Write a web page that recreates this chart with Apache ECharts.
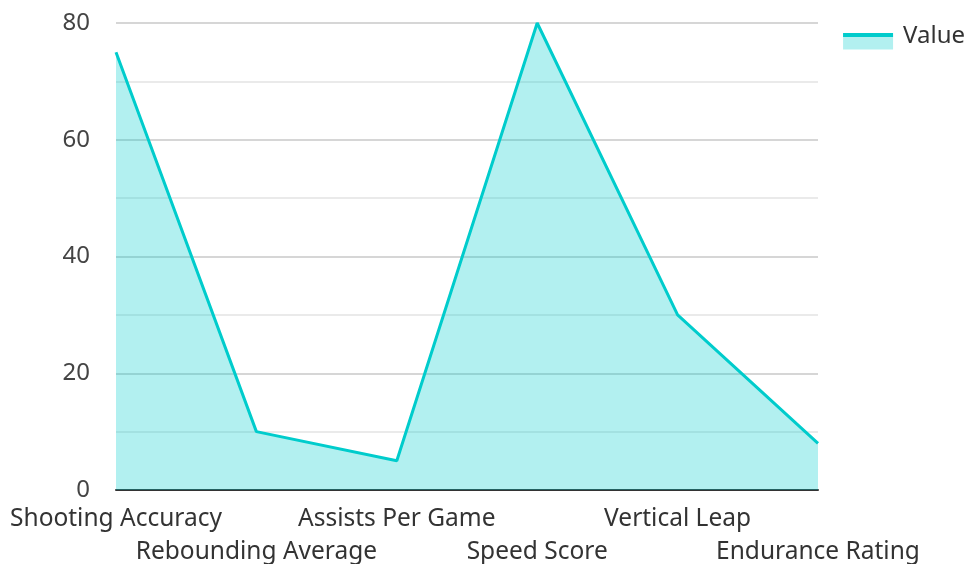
<!DOCTYPE html>
<html>
<head>
<meta charset="utf-8">
<script src="https://cdn.jsdelivr.net/npm/echarts@6/dist/echarts.min.js"></script>
<style>
  html, body { margin: 0; padding: 0; background: #fff; }
  #chart { width: 968px; height: 564px; }
</style>
</head>
<body>
<div id="chart"></div>
<script>
var categories = ['Shooting Accuracy', 'Rebounding Average', 'Assists Per Game', 'Speed Score', 'Vertical Leap', 'Endurance Rating'];
var values = [75, 10, 5, 80, 30, 8];
var seriesName = 'Value';

var lineColor = '#00cccc';
var areaColor = 'rgba(0,204,204,0.3)';
var hidden = 'rgba(0,0,0,0)';

// legend pieces share one layout so icons line up; only the top differs
function legendPart(top, iconH, iconColor, textColor) {
  return {
    data: [seriesName],
    right: 3,
    top: top,
    padding: 0,
    itemWidth: 50,
    itemHeight: iconH,
    icon: 'rect',
    itemStyle: { color: iconColor, borderWidth: 0 },
    textStyle: { fontSize: 24, color: textColor, padding: [0, 0, 0, 5] }
  };
}

var chart = echarts.init(document.getElementById('chart'));
chart.setOption({
  textStyle: { fontFamily: 'Noto Sans' },
  animation: false,
  legend: [
    legendPart(30, 15, areaColor, hidden),
    legendPart(23, 4, lineColor, hidden),
    legendPart(24, 15, hidden, '#333')
  ],
  grid: { left: 116, right: 150, top: 23, bottom: 74, outerBoundsMode: 'none', containLabel: false },
  xAxis: {
    type: 'category',
    data: categories,
    boundaryGap: false,
    axisLine: { lineStyle: { color: '#333', width: 2 } },
    axisTick: { show: false },
    axisLabel: {
      interval: 0,
      fontSize: 24.5,
      color: '#333',
      margin: 13,
      lineHeight: 33,
      formatter: function (v, i) { return i % 2 ? '\n' + v : v; }
    }
  },
  yAxis: {
    type: 'value',
    min: 0,
    max: 80,
    interval: 20,
    axisLine: { show: false },
    axisTick: { show: false },
    axisLabel: { fontSize: 24, color: '#444', margin: 26 },
    splitLine: { lineStyle: { color: '#c8c8c8', width: 1.5 } },
    minorTick: { show: false, splitNumber: 2 },
    minorSplitLine: { show: true, lineStyle: { color: '#e4e4e4', width: 1.5 } }
  },
  series: [{
    name: seriesName,
    type: 'line',
    data: values,
    showSymbol: false,
    symbol: 'none',
    lineStyle: { color: lineColor, width: 3 },
    itemStyle: { color: lineColor },
    areaStyle: { color: areaColor, opacity: 1 }
  }]
});
</script>
</body>
</html>
